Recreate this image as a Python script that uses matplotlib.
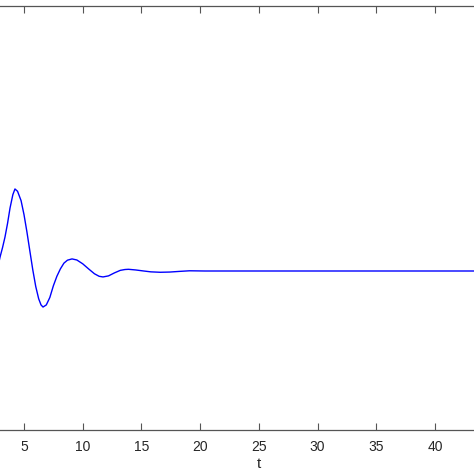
import matplotlib.pyplot as plt

# values (y in arbitrary units, axis range -1..1)
t = [2.5, 2.96, 3.17, 3.38, 3.6, 3.81, 4.05, 4.23, 4.45, 4.75, 5.0, 5.25,
     5.5, 5.75, 6.0, 6.25, 6.45, 6.62, 6.9, 7.2, 7.5, 7.8, 8.1, 8.4, 8.7,
     9.09, 9.5, 10.0, 10.5, 11.0, 11.4, 11.73, 12.2, 12.7, 13.2, 13.6, 13.9,
     14.5, 15.2, 15.8, 16.6, 17.4, 18.2, 19.1, 20.4, 30.0, 40.0, 50.0]
y = [-0.300, -0.184, -0.140, -0.090, -0.025, 0.047, 0.110, 0.137, 0.126,
     0.082, 0.016, -0.066, -0.156, -0.245, -0.323, -0.381, -0.410, -0.420,
     -0.410, -0.375, -0.320, -0.275, -0.240, -0.213, -0.199, -0.193, -0.198,
     -0.216, -0.240, -0.263, -0.275, -0.278, -0.273, -0.259, -0.247, -0.243,
     -0.242, -0.245, -0.250, -0.254, -0.256, -0.255, -0.252, -0.249, -0.250,
     -0.250, -0.250, -0.250]
xticks = [5, 10, 15, 20, 25, 30, 35, 40]

plt.rcParams['font.family'] = ['Liberation Sans', 'DejaVu Sans']

fig = plt.figure(figsize=(4.74, 4.74), dpi=100)
# the axes run past the edges of the picture (cropped figure)
ax = fig.add_axes([-34.7 / 474, 44 / 474, 587 / 474, 424 / 474])
ax.plot(t, y, color='#0000ff', lw=1.0)

ax.set_xlim(0, 50)
ax.set_ylim(-1, 1)
ax.set_xticks(xticks)
ax.set_yticks([])
ax.tick_params(axis='x', direction='in', length=5, width=0.8, color='#555555',
               labelsize=10, labelcolor='#262626', pad=7, top=True)
for s in ax.spines.values():
    s.set_color('#555555')
    s.set_linewidth(0.9)
ax.set_xlabel('t', fontsize=11, color='#262626', labelpad=2)

fig.savefig('out.png', dpi=100)
